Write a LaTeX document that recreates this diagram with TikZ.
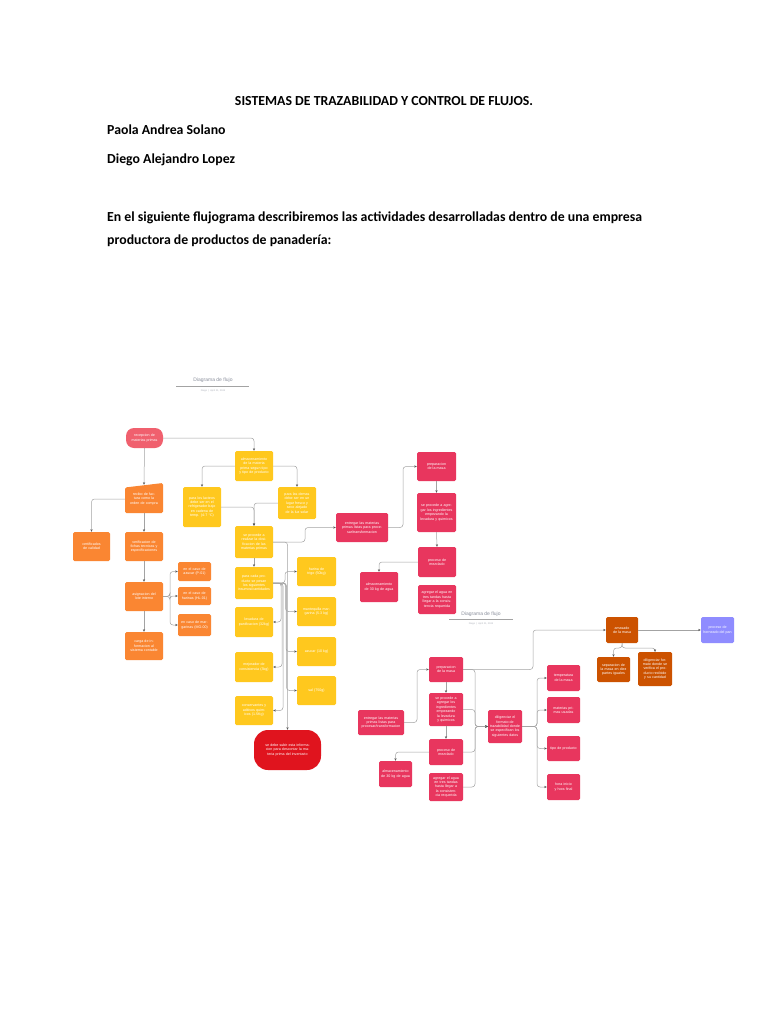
\documentclass[tikz,border=0pt]{standalone}
\usepackage{fontspec}
\setmainfont{Carlito}
\newfontfamily\nodefont{Liberation Sans}
\usetikzlibrary{arrows.meta}
\definecolor{cStart}{HTML}{F0606E}
\definecolor{cOrange}{HTML}{FA8632}
\definecolor{cYellow}{HTML}{FFC81E}
\definecolor{cPink}{HTML}{E8365E}
\definecolor{cRed}{HTML}{E0141E}
\definecolor{cBrown}{HTML}{CC5200}
\definecolor{cLav}{HTML}{8F8CFF}
\definecolor{cLine}{HTML}{A3A3A3}
\definecolor{cTip}{HTML}{555555}
\definecolor{cTitle}{HTML}{8A8F9C}
\begin{document}
\begin{tikzpicture}[x=1pt,y=-1pt,
  box/.style={rounded corners=1.5pt, text=white, align=center, inner sep=0.5pt,
    font=\nodefont\fontsize{3.6}{4.4}\selectfont, minimum width=38, text width=33},
  yb/.style={box, fill=cYellow},
  ob/.style={box, fill=cOrange},
  pb/.style={box, fill=cPink},
  ln/.style={draw=cLine, line width=0.5pt, rounded corners=3pt,
    -{Stealth[length=2.6pt,width=2.2pt,color=cTip]}},
  hd/.style={font=\bfseries\fontsize{13.8}{16}\selectfont, inner sep=0pt},
  dgt/.style={text=cTitle, font=\nodefont\fontsize{5}{6}\selectfont, inner sep=0pt},
  dgs/.style={text=cTitle!70, font=\nodefont\fontsize{2.4}{3}\selectfont, inner sep=0pt}
]
\useasboundingbox (0,0) rectangle (768,1024);
\fill[white] (0,0) rectangle (768,1024);

% ---------- page text ----------
\node[hd, anchor=base] (title) at (384,105.5) {SISTEMAS DE TRAZABILIDAD Y CONTROL DE FLUJOS.};
\node[hd, anchor=base west] (au1) at (107,134.5) {Paola Andrea Solano};
\node[hd, anchor=base west] (au2) at (107,163.5) {Diego Alejandro Lopez};
\node[hd, anchor=base west] (par1) at (107,221.5) {En el siguiente flujograma describiremos las actividades desarrolladas dentro de una empresa};
\node[hd, anchor=base west] (par2) at (107,244.5) {productora de productos de panadería:};

% ---------- diagram 1 header ----------
\node[dgt] (dt1) at (213,380.5) {Diagrama de flujo};
\draw[cLine, line width=0.4pt] (176,386) -- (249,386);
\node[dgs] (ds1) at (213,390.5) {Diego \ | \ April 21, 2024};

% ---------- diagram 1 nodes ----------
\node[box, fill=cStart, rounded corners=8pt, minimum width=37, minimum height=20] (start) at (144.5,438) {recepcion de\\materias primas};

\node[yb, minimum height=30] (y1) at (254,466) {almacenamiento de la materia prima segun tipo y tipo de producto};
\node[yb, minimum height=40] (y2) at (202,507) {para los lacteos debe ser en el refrigerador bajo en cadena de temp. (4-7 °C)};
\node[yb, minimum height=32] (y3) at (297,503) {para las demas debe ser en un lugar fresco y seco alejado de la luz solar};
\node[yb, minimum height=32] (y4) at (254,542) {se procede a realizar la dosificacion de las materias primas};
\node[yb, minimum height=32] (y5) at (254,583) {para cada producto se pesan los siguientes insumos/cantidades};
\node[yb, minimum height=30] (y6) at (254,622) {levadura de panificacion (32kg)};
\node[yb, minimum height=30] (y7) at (254,667) {mejorador de consistencia (3kg)};
\node[yb, minimum height=29] (y8) at (254,710.5) {conservantes y aditivos quimicos (1.5Kg)};
\node[yb, minimum width=39, minimum height=29] (r1) at (316.5,571.5) {harina de trigo (50kg)};
\node[yb, minimum width=39, minimum height=29] (r2) at (316.5,611.5) {mantequilla margarina (5.3 kg)};
\node[yb, minimum width=39, minimum height=29] (r3) at (316.5,651.5) {azucar (10 kg)};
\node[yb, minimum width=39, minimum height=29] (r4) at (316.5,690.5) {sal (750g)};
\node[box, fill=cRed, rounded corners=14pt, minimum width=67, minimum height=40, text width=58] (pill) at (287.5,750) {se debe subir esta informacion para descontar la materia prima del inventario};

\fill[cOrange, rounded corners=1.5pt] (125,487.5) -- (163,483) -- (163,513) -- (125,513) -- cycle;
\node[box, minimum height=28] (o1) at (144,499) {recibo de factura como la orden de compra};
\node[ob, minimum width=37, minimum height=29] (o2) at (91.5,546.5) {certificados de calidad};
\node[ob, minimum height=29] (o3) at (144,546.5) {verificacion de fichas tecnicas y especificaciones};
\node[ob, minimum height=29] (o4) at (144,596.5) {asignacion del lote interno};
\node[ob, minimum height=28] (o5) at (144,646) {carga de informacion al sistema contable};
\node[ob, minimum width=33, minimum height=19, text width=29] (o6) at (194.5,571.5) {en el caso de azucar (P-01)};
\node[ob, minimum width=33, minimum height=18, text width=29] (o7) at (194.5,596) {en el caso de harinas (HL-01)};
\node[ob, minimum width=33, minimum height=22, text width=29] (o8) at (194.5,625) {en caso de margarinas (MG-00)};

\node[pb, minimum width=52, minimum height=29, text width=48] (p1) at (362,527.5) {entregar las materias primas listas para procesar/transformacion};
\node[pb, minimum width=39, minimum height=29] (p2) at (436.5,466.5) {preparacion de la masa};
\node[pb, minimum width=39, minimum height=39] (p3) at (436.5,512.5) {se procede a agregar los ingredientes empezando la levadura y quimicos};
\node[pb, minimum width=38, minimum height=30] (p4) at (437,562) {proceso de mezclado};
\node[pb, minimum width=38, minimum height=30] (p5) at (379,587) {almacenamiento de 30 kg de agua};
\node[pb, minimum width=38, minimum height=29] (p6) at (437,599.5) {agregar el agua en tres tandas hasta llegar a la consistencia requerida};

% ---------- diagram 1 connectors ----------
\draw[ln] (start.east) -| (y1.north);
\draw[ln] (y1.west) -| (y2.north);
\draw[ln] (y1.east) -| (y3.north);
\draw[ln] (y2.east) -| (y4.north);
\draw[ln] (y3.west) -| (y4.north);
\draw[ln] (y4.south) -- (y5.north);
\draw[ln] (y4.east) -| (pill.north);
\draw[ln] (y4.east) -- (305,542) |- (p1.west);
\draw[ln] (y5.east) -- (285,583) |- (r1.west);
\draw[ln] (y5.east) -- (285.5,583) |- (r2.west);
\draw[ln] (y5.east) -- (286,583) |- (r3.west);
\draw[ln] (y5.east) -- (286.5,583) |- (r4.west);
\draw[ln] (y5.east) -- (281,583) |- (y6.east);
\draw[ln] (y5.east) -- (282,583) |- (y7.east);
\draw[ln] (y5.east) -- (283,583) |- (y8.east);
\draw[ln] (start.south) -- (o1.north);
\draw[ln] (o1.west) -| (o2.north);
\draw[ln] (o1.south) -- (o3.north);
\draw[ln] (o3.south) -- (o4.north);
\draw[ln] (o4.south) -- (o5.north);
\draw[ln] (o4.east) -- (170,596.5) |- (o6.west);
\draw[ln] (o4.east) -- (170,596.5) |- (o7.west);
\draw[ln] (o4.east) -- (170,596.5) |- (o8.west);
\draw[ln] (p1.east) -- (403,527.5) |- (p2.west);
\draw[ln] (p2.south) -- (p3.north);
\draw[ln] (p3.south) -- (p4.north);
\draw[ln] (p4.west) -| (p5.north);

% ---------- diagram 2 ----------
\node[dgt] (dt2) at (481,614.5) {Diagrama de flujo};
\draw[cLine, line width=0.4pt] (449,619.5) -- (513,619.5);
\node[dgs] (ds2) at (481,623.5) {Diego \ | \ April 21, 2024};

\node[pb, minimum width=46, minimum height=25, text width=43] (q1) at (381,722.5) {entregar las materias primas listas para procesar/transformacion};
\node[pb, minimum width=34, minimum height=25, text width=30] (q2) at (446,669.5) {preparacion de la masa};
\node[pb, minimum width=34, minimum height=33, text width=30] (q3) at (446,709.5) {se procede a agregar los ingredientes empezando la levadura y quimicos};
\node[pb, minimum width=34, minimum height=26, text width=30] (q4) at (446,752) {proceso de mezclado};
\node[pb, minimum width=33, minimum height=26, text width=30] (q5) at (395.5,774) {almacenamiento de 30 kg de agua};
\node[pb, minimum width=34, minimum height=28, text width=30] (q6) at (446,787) {agregar el agua en tres tandas hasta llegar a la consistencia requerida};
\node[pb, minimum width=34, minimum height=33, text width=30] (q7) at (505,726.5) {diligenciar el formato de trazabilidad donde se especifican los siguientes datos};
\node[pb, minimum width=33, minimum height=26, text width=30] (q8) at (563.5,678) {temperatura de la masa};
\node[pb, minimum width=33, minimum height=26, text width=30] (q9) at (563.5,710) {materias primas usadas};
\node[pb, minimum width=33, minimum height=25, text width=30] (q10) at (563.5,748.5) {tipo de producto};
\node[pb, minimum width=33, minimum height=26, text width=30] (q11) at (563.5,787) {hora inicio y hora final};
\node[box, fill=cBrown, minimum width=32, minimum height=26, text width=29] (b1) at (622,630) {amasado de la masa};
\node[box, fill=cLav, minimum width=33, minimum height=26, text width=30] (l1) at (717.5,630) {proceso de horneado del pan};
\node[box, fill=cBrown, minimum width=33, minimum height=25, text width=30] (b2) at (613.5,669.5) {separacion de la masa en diez partes iguales};
\node[box, fill=cBrown, minimum width=34, minimum height=34, text width=31] (b3) at (655,669) {diligenciar formato donde se verifica el producto recibido y su cantidad};

\draw[ln] (q1.east) -- (417,722.5) |- (q2.west);
\draw[ln] (q2.south) -- (q3.north);
\draw[ln] (q3.south) -- (q4.north);
\draw[ln] (q4.west) -| (q5.north);
\draw[ln] (q2.east) -- (475,669.5) |- (q7.west);
\draw[ln] (q3.east) -- (475,709.5) |- (q7.west);
\draw[ln] (q4.east) -- (475,752) |- (q7.west);
\draw[ln] (q6.east) -- (475,787) |- (q7.west);
\draw[ln] (q2.east) -- (533,669.5) |- (b1.west);
\draw[ln] (q7.east) -- (537,726.5) |- (q8.west);
\draw[ln] (q7.east) -- (537,726.5) |- (q9.west);
\draw[ln] (q7.east) -- (537,726.5) |- (q10.west);
\draw[ln] (q7.east) -- (537,726.5) |- (q11.west);
\draw[ln] (b1.east) -- (l1.west);
\draw[ln] (b1.south) -- (622,648) -| (b2.north);
\draw[ln] (b1.south) -- (622,648) -| (b3.north);
\end{tikzpicture}
\end{document}
